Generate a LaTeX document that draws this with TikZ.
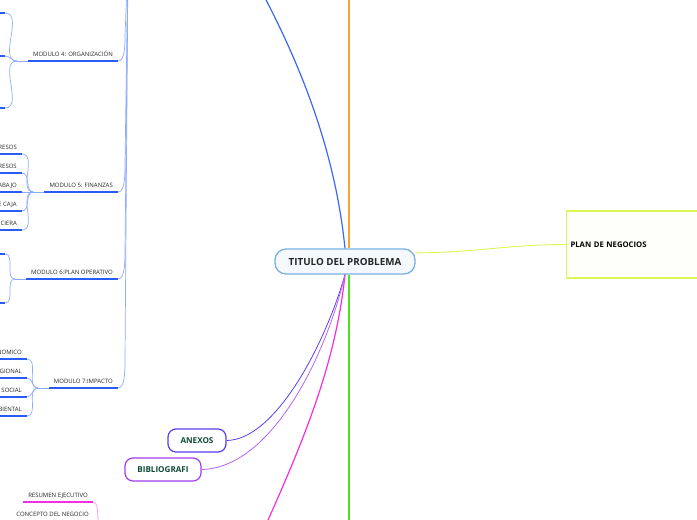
\documentclass[tikz,border=0pt]{standalone}
\usepackage{fontspec}
\setmainfont{Open Sans}
\usetikzlibrary{positioning}

\definecolor{modblue}{HTML}{2A5CF5}
\definecolor{linkblue}{HTML}{8AABFF}
\definecolor{mainblue}{HTML}{3A66FF}
\definecolor{rootedge}{HTML}{7AB0E0}
\definecolor{rootfill}{HTML}{F5F9FD}
\definecolor{orangeline}{HTML}{F7A434}
\definecolor{greenline}{HTML}{4FE21C}
\definecolor{yellowline}{HTML}{DDF552}
\definecolor{anexcol}{HTML}{5A3EF2}
\definecolor{bibcol}{HTML}{A53CF2}
\definecolor{magline}{HTML}{F52EE0}
\definecolor{pinkline}{HTML}{FFA0F2}
\definecolor{darkgreen}{HTML}{0E4A38}

\begin{document}
\begin{tikzpicture}[x=1pt,y=-1pt,
    root/.style={draw=rootedge,fill=rootfill,line width=1.3pt,rounded corners=11pt,
      minimum width=140pt,minimum height=25pt,text=black!85,
      font=\fontsize{9.8}{11}\selectfont\bfseries},
    leaf/.style={anchor=south east,inner xsep=5pt,inner ysep=3pt,text height=4.3pt,
      text depth=1pt,text=black!85,font=\fontsize{6}{7}\selectfont},
    bubble/.style={fill=white,line width=1.2pt,rounded corners=8pt,minimum height=23pt,
      text=darkgreen,font=\fontsize{8.1}{9}\selectfont\bfseries},
    uline/.style={draw=modblue,line width=1.6pt},
    sub/.style={draw=linkblue,line width=0.7pt},
    magul/.style={draw=magline,line width=1.6pt},
    magsub/.style={draw=pinkline,line width=0.8pt}]
  \useasboundingbox (0,0) rectangle (697,520);
  \clip (0,0) rectangle (697,520);

  \node[root] (root) at (345,261.5) {TITULO DEL PROBLEMA};
  \node[draw=yellowline,fill=yellow!2,line width=1.1pt,anchor=west,minimum height=67pt,
    text width=210pt,align=left,inner xsep=4pt,font=\fontsize{7.7}{9}\selectfont\bfseries]
    (plan) at (566,244.5) {PLAN DE NEGOCIOS};
  \node[bubble,draw=anexcol,minimum width=58pt] (anexos) at (197,440.5) {ANEXOS};
  \node[bubble,draw=bibcol,minimum width=76pt] (biblio) at (163,469.5) {BIBLIOGRAFI};

  \coordinate (topend) at (349,-10);
  \coordinate (botend) at (349,530);
  \draw[orangeline,line width=1.5pt] (root.north -| topend) -- (topend);
  \draw[greenline,line width=1.5pt] (root.south -| botend) -- (botend);
  \draw[mainblue,line width=1.2pt] (root.north) .. controls (335,150) and (300,60) .. (250,-30);
  \draw[magline,line width=1.2pt] (root.south) .. controls (335,370) and (300,450) .. (250,560);
  \draw[yellowline,line width=0.9pt] (root.7) to[out=0,in=180] (plan.west);
  \draw[anexcol,line width=0.8pt] (root.south) .. controls (325,345) and (275,440) .. (anexos.east);
  \draw[bibcol!80,line width=0.8pt] (root.south) .. controls (325,360) and (270,468) .. (biblio.east);

  % modulos
  \coordinate (trunk) at (128,-40);
  \node[leaf] (m4) at (118,61)  {MODULO 4: ORGANIZACIÓN};
  \node[leaf] (m5) at (118,192) {MODULO 5: FINANZAS};
  \node[leaf] (m6) at (118,279) {MODULO 6:PLAN OPERATIVO};
  \node[leaf] (m7) at (118,388) {MODULO 7:IMPACTO};
  \draw[sub] (m4.south east) .. controls (124,61)  and (125,50)  .. (125,36)  -- (trunk);
  \draw[sub] (m5.south east) .. controls (124,192) and (125,180) .. (125,165) -- (trunk);
  \draw[sub] (m6.south east) .. controls (124,279) and (125,267) .. (125,252) -- (trunk);
  \draw[sub] (m7.south east) .. controls (124,388) and (125,376) .. (125,360) -- (trunk);
  \draw[uline] (m4.south west) -- (m4.south east);
  \draw[uline] (m5.south west) -- (m5.south east);
  \draw[uline] (m6.south west) -- (m6.south east);
  \draw[uline] (m7.south west) -- (m7.south east);

  \coordinate (o1) at (5,13);
  \coordinate (o2) at (5,56);
  \coordinate (o3) at (5,108);
  \draw[sub] (m4.south west) -- ++(-11,0) coordinate (h4);
  \draw[sub] (h4) to[out=180,in=0] (o1);
  \draw[sub] (h4) to[out=180,in=0] (o2);
  \draw[sub] (h4) to[out=180,in=0] (o3);
  \draw[uline] (o1) -- ++(-40,0);
  \draw[uline] (o2) -- ++(-40,0);
  \draw[uline] (o3) -- ++(-40,0);

  \node[leaf] (f1) at (22,154) {PRESUPUESTO DE INGRESOS};
  \node[leaf] (f2) at (22,173) {PRESUPUESTO DE EGRESOS};
  \node[leaf] (f3) at (22,192) {CAPITAL DE TRABAJO};
  \node[leaf] (f4) at (22,211) {FLUJO DE CAJA};
  \node[leaf] (f5) at (22,230) {EVALUACION FINANCIERA};
  \draw[sub] (m5.south west) -- ++(-11,0) coordinate (h5);
  \draw[sub] (h5) to[out=180,in=0] (f1.south east);
  \draw[sub] (h5) to[out=180,in=0] (f2.south east);
  \draw[sub] (h5) -- (f3.south east);
  \draw[sub] (h5) to[out=180,in=0] (f4.south east);
  \draw[sub] (h5) to[out=180,in=0] (f5.south east);
  \draw[uline] (f1.south west) -- (f1.south east);
  \draw[uline] (f2.south west) -- (f2.south east);
  \draw[uline] (f3.south west) -- (f3.south east);
  \draw[uline] (f4.south west) -- (f4.south east);
  \draw[uline] (f5.south west) -- (f5.south east);

  \coordinate (p1) at (5,254);
  \coordinate (p2) at (5,303);
  \draw[sub] (m6.south west) -- ++(-11,0) coordinate (h6);
  \draw[sub] (h6) to[out=180,in=0] (p1);
  \draw[sub] (h6) to[out=180,in=0] (p2);
  \draw[uline] (p1) -- ++(-40,0);
  \draw[uline] (p2) -- ++(-40,0);

  \node[leaf] (i1) at (27,359) {IMPACTO ECONOMICO};
  \node[leaf] (i2) at (27,378) {IMPACTO REGIONAL};
  \node[leaf] (i3) at (27,397) {IMPACTO SOCIAL};
  \node[leaf] (i4) at (27,416) {IMPACTO AMBIENTAL};
  \draw[sub] (m7.south west) -- ++(-11,0) coordinate (h7);
  \draw[sub] (h7) to[out=180,in=0] (i1.south east);
  \draw[sub] (h7) to[out=180,in=0] (i2.south east);
  \draw[sub] (h7) to[out=180,in=0] (i3.south east);
  \draw[sub] (h7) to[out=180,in=0] (i4.south east);
  \draw[uline] (i1.south west) -- (i1.south east);
  \draw[uline] (i2.south west) -- (i2.south east);
  \draw[uline] (i3.south west) -- (i3.south east);
  \draw[uline] (i4.south west) -- (i4.south east);

  % rama inferior
  \coordinate (maghub) at (104,600);
  \node[leaf] (r1) at (93,502) {RESUMEN EJECUTIVO};
  \node[leaf] (r2) at (94,521) {CONCEPTO DEL NEGOCIO};
  \draw[magsub] (r1.south east) .. controls (97,502) and (98,508) .. (98,525) -- (maghub);
  \draw[magsub] (r2.south east) .. controls (98,521) and (99,527) .. (99,540) -- (maghub);
  \draw[magul] (r1.south west) -- (r1.south east);
  \draw[magul] (r2.south west) -- (r2.south east);
\end{tikzpicture}
\end{document}
